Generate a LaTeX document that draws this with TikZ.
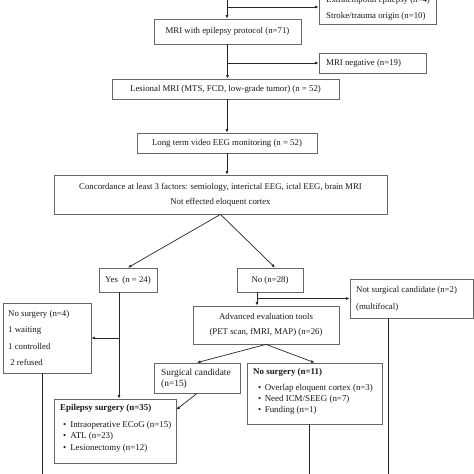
\documentclass[tikz,border=0pt]{standalone}
\usepackage{fontspec}
\setmainfont{Liberation Serif}
\usetikzlibrary{arrows.meta,calc}
\begin{document}
\begin{tikzpicture}[x=1pt,y=-1pt,
  box/.style={draw=black!60, line width=0.8pt, inner sep=0pt, text=black!90, font=\fontsize{8.8}{15}\selectfont, align=center},
  txt/.style={inner sep=0pt, align=left, text=black!90, font=\fontsize{8.8}{16}\selectfont, anchor=west},
  ln/.style={draw=black!85, line width=0.7pt},
  arr/.style={ln, -{Latex[length=3.5pt,width=3pt]}}]
\useasboundingbox (0,0) rectangle (474,474);
\fill[white] (0,0) rectangle (474,474);
\clip (0,0) rectangle (474,474);

% boxes
\node[box, minimum width=117pt, minimum height=34pt] (ext) at (377.5,7) {};
\node[txt] (extt) at (326,8) {Extratemporal epilepsy (n=4)\\Stroke/trauma origin (n=10)};
\node[box, minimum width=147pt, minimum height=25pt] (mri) at (227.5,31.5) {MRI with epilepsy protocol (n=71)};
\node[box, minimum width=107pt, minimum height=20pt] (neg) at (372.5,63) {};
\node[txt] (negt) at (326,63) {MRI negative (n=19)};
\node[box, minimum width=227pt, minimum height=20pt] (les) at (225.5,89) {Lesional MRI (MTS, FCD, low-grade tumor) (n = 52)};
\node[box, minimum width=180pt, minimum height=20pt] (long) at (227,143) {Long term video EEG monitoring (n = 52)};
\node[box, minimum width=333pt, minimum height=39pt] (conc) at (220.5,194.5) {Concordance at least 3 factors: semiology, interictal EEG, ictal EEG, brain MRI\\Not effected eloquent cortex};
\node[box, minimum width=58pt, minimum height=24pt] (yes) at (128,280) {Yes\ \ (n = 24)};
\node[box, minimum width=66pt, minimum height=24pt] (no) at (270,280) {No (n=28)};
\node[box, minimum width=123pt, minimum height=39pt] (nsc) at (411.5,298.5) {};
\node[txt, font=\fontsize{8.8}{17}\selectfont] (nsct) at (356,298.5) {Not surgical candidate (n=2)\\(multifocal)};
\node[box, minimum width=146pt, minimum height=38pt] (adv) at (266,325) {Advanced evaluation tools\\(PET scan, fMRI, MAP) (n=26)};
\node[box, minimum width=88pt, minimum height=70pt] (ns4) at (47,338) {};
\node[txt, font=\fontsize{8.8}{16.3}\selectfont] (ns4t) at (8,338) {No surgery (n=4)\\1 waiting\\1 controlled\\\ 2 refused};
\node[box, minimum width=86pt, minimum height=30pt] (sc) at (197,378) {};
\node[txt, font=\fontsize{9.4}{11}\selectfont] (sct) at (161,378.5) {Surgical candidate\\(n=15)};
\node[box, minimum width=135pt, minimum height=61pt] (ns11) at (314.5,393.5) {};
\node[txt, font=\fontsize{8.9}{11}\selectfont] (ns11t) at (253,391) {\textbf{No surgery (n=11)}\\[5pt]
  \hspace*{5pt}\textbullet\hspace{3.5pt}Overlap eloquent cortex (n=3)\\
  \hspace*{5pt}\textbullet\hspace{3.5pt}Need ICM/SEEG (n=7)\\
  \hspace*{5pt}\textbullet\hspace{3.5pt}Funding (n=1)};
\node[box, minimum width=122pt, minimum height=64pt] (epi) at (115,431) {};
\node[txt, font=\fontsize{8.9}{11.5}\selectfont] (epit) at (60,428) {\textbf{Epilepsy surgery (n=35)}\\[5.5pt]
  \hspace*{3pt}\textbullet\hspace{4pt}Intraoperative ECoG (n=15)\\
  \hspace*{3pt}\textbullet\hspace{4pt}ATL (n=23)\\
  \hspace*{3pt}\textbullet\hspace{4pt}Lesionectomy (n=12)};

% free ends
\coordinate (top) at (227,-10);
\coordinate (yb) at ([xshift=-9pt]yes.south);
\coordinate (nb) at ([xshift=-13pt]no.south);
\coordinate (b1) at (42,480);
\coordinate (b2) at (309,480);
\coordinate (b3) at (388,480);

% connectors
\draw[arr] (top) -- (top |- mri.north);
\draw[arr] (top |- ext.west) -- (ext.west);
\draw[arr] (mri.south) -- (mri.south |- les.north);
\draw[arr] (mri.south |- neg.west) -- (neg.west);
\draw[arr] (long.north |- les.south) -- (long.north);
\draw[arr] (long.south) -- (long.south |- conc.north);
\draw[arr] (conc.south) -- (yes.north);
\draw[arr] (conc.south) -- ([xshift=5pt]no.north);
\draw[arr] (yb) -- (yb |- epi.north);
\draw[arr] (yb |- ns4.east) -- (ns4.east);
\draw[arr] (nb) -- (nb |- adv.north);
\draw[arr] (nb |- nsc.west) -- (nsc.west);
\draw[arr] (adv.south) -- (sc.north);
\draw[arr] (adv.south) -- (ns11.north);
\draw[arr] (sc.south) -- ([yshift=-11pt]epi.north east);
\draw[ln] (ns4.south -| b1) -- (b1);
\draw[ln] (ns11.south -| b2) -- (b2);
\draw[ln] (nsc.south -| b3) -- (b3);
\end{tikzpicture}
\end{document}
